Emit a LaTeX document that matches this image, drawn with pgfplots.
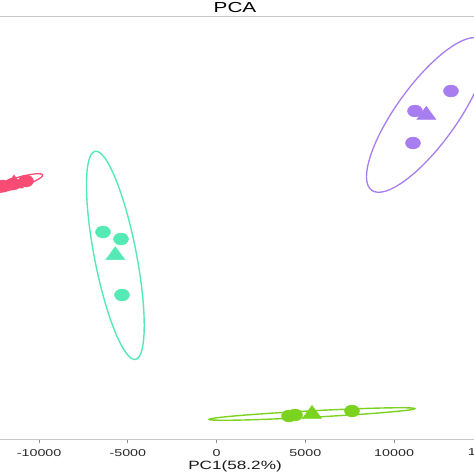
\documentclass[border=0pt]{standalone}
\usepackage{fontspec}
\setmainfont[FakeStretch=1.43]{Liberation Sans}
\usepackage{pgfplots}
\pgfplotsset{compat=1.18}

\definecolor{grpA}{HTML}{F94C74}
\definecolor{grpB}{HTML}{54E9B5}
\definecolor{grpC}{HTML}{A77DF0}
\definecolor{grpD}{HTML}{7BD320}

\pgfplotsset{
  samplept/.style={only marks, mark=*, mark size=7.5pt,
    mark options={draw=#1, fill=#1, yscale=0.8}},
  centerpt/.style={only marks, mark=triangle*, mark size=11pt,
    mark options={draw=#1, fill=#1, yscale=0.79}},
}

\begin{document}
\begin{tikzpicture}
\useasboundingbox (0pt,-35pt) rectangle (474pt,439pt);
\clip (0pt,-35pt) rectangle (474pt,439pt);
\begin{axis}[
  at={(0pt,0pt)}, anchor=south west,
  scale only axis, width=474pt, height=422pt,
  xmin=-12203, xmax=14502, ymin=-10648, ymax=13127,
  separate axis lines,
  x axis line style={black!22, line width=1pt},
  y axis line style={draw=none},
  ytick=\empty,
  scaled x ticks=false,
  xtick={-15000,-10000,-5000,0,5000,10000,15000},
  xticklabels={-15000,-10000,-5000,0,5000,10000,15000},
  xtick pos=left, tick align=outside, major tick length=4pt,
  xtick style={black!45, line width=0.9pt},
  xticklabel style={font=\fontsize{10}{12}\selectfont, text=black!85, yshift=-3pt},
  xlabel={PC1(58.2\%)},
  xlabel style={at={(axis description cs:0.4958,0)}, anchor=base,
    yshift=-30pt, font=\fontsize{12}{14}\selectfont, text=black!90},
  title={PCA},
  title style={at={(axis description cs:0.4958,1)}, anchor=base,
    yshift=-2pt, font=\fontsize{14.5}{17}\selectfont},
  clip=false,
]
% confidence ellipses around each group centre
\draw[grpA, line width=1.3pt, rotate around={17:(axis cs:-11414,3737)}]
  (axis cs:-11414,3737) ellipse [x radius=30pt, y radius=5pt];
\draw[grpB, line width=1.4pt, rotate around={-79:(axis cs:-5705,-300)}]
  (axis cs:-5705,-300) ellipse [x radius=106pt, y radius=21pt];
\draw[grpC, line width=1.3pt, rotate around={54:(axis cs:11816,7606)}]
  (axis cs:11816,7606) ellipse [x radius=93pt, y radius=30pt];
\draw[grpD, line width=1.4pt, rotate around={3:(axis cs:5375,-9240)}]
  (axis cs:5375,-9240) ellipse [x radius=103pt, y radius=3.2pt];

% samples
\addplot[samplept=grpA] coordinates {(-12034,3606) (-11471,3718) (-10738,3887)};
\addplot[samplept=grpB] coordinates {(-6400,1014) (-5386,620) (-5330,-2535)};
\addplot[samplept=grpC] coordinates {(13206,8958) (11178,7831) (11065,6028)};
\addplot[samplept=grpD] coordinates {(4079,-9352) (4417,-9296) (7628,-9071)};

% group centroids
\addplot[centerpt=grpA] coordinates {(-11414,3737)};
\addplot[centerpt=grpB] coordinates {(-5705,-300)};
\addplot[centerpt=grpC] coordinates {(11816,7606)};
\addplot[centerpt=grpD] coordinates {(5375,-9240)};

% last tick label, beyond the plotted range
\node[anchor=base, yshift=-16.5pt, xshift=5pt, font=\fontsize{10}{12}\selectfont, text=black!85]
  at (axis cs:15000,-10648) {15000};
\end{axis}
\end{tikzpicture}
\end{document}
